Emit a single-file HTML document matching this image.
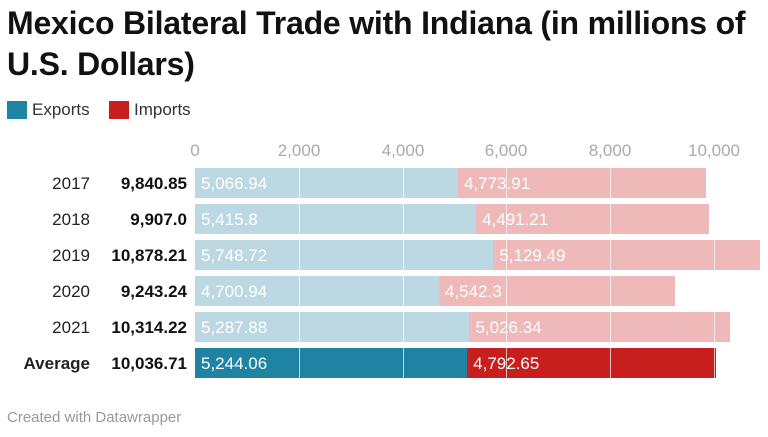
<!DOCTYPE html>
<html><head><meta charset="utf-8"><style>
body{margin:0;width:768px;height:437px;background:#fff;font-family:"Liberation Sans",sans-serif;position:relative;overflow:hidden}
.t{position:absolute;left:7px;top:3px;font-size:32px;font-weight:bold;line-height:41px;color:#111;letter-spacing:-0.2px}
.lg{position:absolute;top:100px;font-size:17px;color:#333}
.sw{position:absolute;top:101px;width:20px;height:18px}
.ax{position:absolute;top:141px;font-size:17px;color:#aaa;transform:translateX(-50%)}
.yr{position:absolute;left:0;width:90px;text-align:right;font-size:17px;color:#222}
.tot{position:absolute;left:95px;width:92px;text-align:right;font-size:17px;font-weight:bold;color:#111}
.b{position:absolute;height:30px}
.lb{position:absolute;font-size:17px;color:#fff;line-height:31px}
.g{position:absolute;top:168px;height:211px;width:1px;background:rgba(255,255,255,0.7)}
.f{position:absolute;left:7px;top:409px;font-size:15px;color:#999}
</style></head><body>
<div class="t">Mexico Bilateral Trade with Indiana (in millions of<br>U.S. Dollars)</div>
<div class="sw" style="left:7px;background:#1f83a3"></div><div class="lg" style="left:32px">Exports</div>
<div class="sw" style="left:109px;background:#c71e1e"></div><div class="lg" style="left:134px">Imports</div>
<div class="ax" style="left:195px">0</div>
<div class="ax" style="left:299px">2,000</div>
<div class="ax" style="left:403px">4,000</div>
<div class="ax" style="left:506px">6,000</div>
<div class="ax" style="left:610px">8,000</div>
<div class="ax" style="left:714px">10,000</div>
<div id="rows"></div>
<div class="g" style="left:299px"></div><div class="g" style="left:403px"></div><div class="g" style="left:506px"></div><div class="g" style="left:610px"></div><div class="g" style="left:714px"></div>
<div class="f">Created with Datawrapper</div>
<script>
var d=[["2017","9,840.85",5066.94,4773.91,"5,066.94","4,773.91"],["2018","9,907.0",5415.8,4491.21,"5,415.8","4,491.21"],["2019","10,878.21",5748.72,5129.49,"5,748.72","5,129.49"],["2020","9,243.24",4700.94,4542.3,"4,700.94","4,542.3"],["2021","10,314.22",5287.88,5026.34,"5,287.88","5,026.34"],["Average","10,036.71",5244.06,4792.65,"5,244.06","4,792.65"]];
var h="",s=0.0519,x0=195;
d.forEach(function(r,i){var y=168+i*36,avg=i==5;var w1=r[2]*s,w2=r[3]*s;
h+='<div class="yr" style="top:'+(y+6)+'px;'+(avg?'font-weight:bold':'')+'">'+r[0]+'</div>';
h+='<div class="tot" style="top:'+(y+6)+'px">'+r[1]+'</div>';
h+='<div class="b" style="top:'+y+'px;left:'+x0+'px;width:'+w1+'px;background:'+(avg?'#1f83a3':'#bcd9e3')+'"></div>';
h+='<div class="b" style="top:'+y+'px;left:'+(x0+w1)+'px;width:'+w2+'px;background:'+(avg?'#c71e1e':'#efb9b9')+'"></div>';
h+='<div class="lb" style="top:'+y+'px;left:'+(x0+6)+'px">'+r[4]+'</div>';
h+='<div class="lb" style="top:'+y+'px;left:'+(x0+w1+6)+'px">'+r[5]+'</div>';});
document.getElementById("rows").innerHTML=h;
</script>
</body></html>
